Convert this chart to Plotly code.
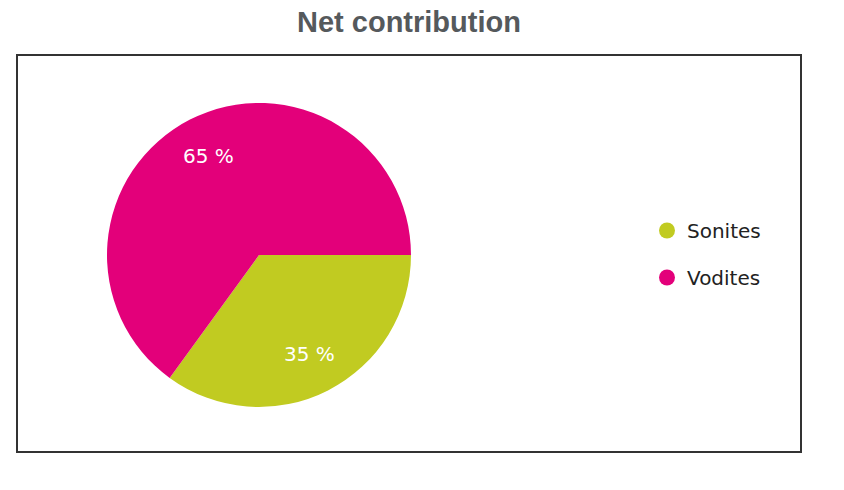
import math
import plotly.graph_objects as go

categories = ["Sonites", "Vodites"]
values = [35, 65]
colors = ["#C1CB21", "#E3007A"]
title_text = "Net contribution"

W, H = 844, 490

def px_x(v):
    return v / W

def px_y(v):
    return 1 - v / H

# pie geometry (pixels)
PIE_L, PIE_R, PIE_T, PIE_B = 107, 411, 103, 407
cx = (PIE_L + PIE_R) / 2
cy = (PIE_T + PIE_B) / 2
rad = (PIE_R - PIE_L) / 2
LABEL_FRAC = 0.73

fig = go.Figure()

fig.add_trace(go.Pie(
    labels=categories,
    values=values,
    marker=dict(colors=colors, line=dict(width=0)),
    sort=False,
    direction="clockwise",
    rotation=90,
    textinfo="none",
    domain=dict(x=[px_x(PIE_L), px_x(PIE_R)], y=[px_y(PIE_B), px_y(PIE_T)]),
    showlegend=False,
    hoverinfo="skip",
))

# percentage labels placed at slice mid-angles (computed from the data)
total = sum(values)
annotations = []
start = 0.0  # degrees clockwise from 3 o'clock
for v in values:
    span = 360.0 * v / total
    mid = math.radians(start + span / 2)
    lx = cx + LABEL_FRAC * rad * math.cos(mid)
    ly = cy + LABEL_FRAC * rad * math.sin(mid)
    annotations.append(dict(
        x=px_x(lx), y=px_y(ly), xref="paper", yref="paper",
        text=f"{round(100 * v / total)} %", showarrow=False,
        xanchor="center", yanchor="middle",
        font=dict(family="DejaVu Sans", size=20, color="white"),
    ))
    start += span

for i, (cat, col) in enumerate(zip(categories, colors)):
    fig.add_trace(go.Scatter(
        x=[None], y=[None], mode="markers", name=cat,
        marker=dict(symbol="circle", size=16, color=col),
        legendgroup=f"g{i}", showlegend=True,
    ))

fig.update_layout(
    width=W, height=H,
    margin=dict(l=0, r=0, t=0, b=0),
    paper_bgcolor="white",
    plot_bgcolor="white",
    xaxis=dict(visible=False),
    yaxis=dict(visible=False),
    title=dict(
        text=title_text,
        x=px_x(409), xanchor="center",
        y=px_y(22), yanchor="middle",
        font=dict(family="Liberation Sans", size=29, color="#55595c", weight="bold"),
    ),
    legend=dict(
        x=px_x(647), xanchor="left",
        y=px_y(254), yanchor="middle",
        font=dict(family="DejaVu Sans", size=20, color="#222222"),
        tracegroupgap=18,
        bgcolor="rgba(0,0,0,0)",
    ),
    annotations=annotations,
    shapes=[dict(
        type="rect", xref="paper", yref="paper",
        x0=px_x(17), x1=px_x(801), y0=px_y(452), y1=px_y(55),
        line=dict(color="#333333", width=2),
        layer="below",
    )],
)

fig.write_html("out.html")
